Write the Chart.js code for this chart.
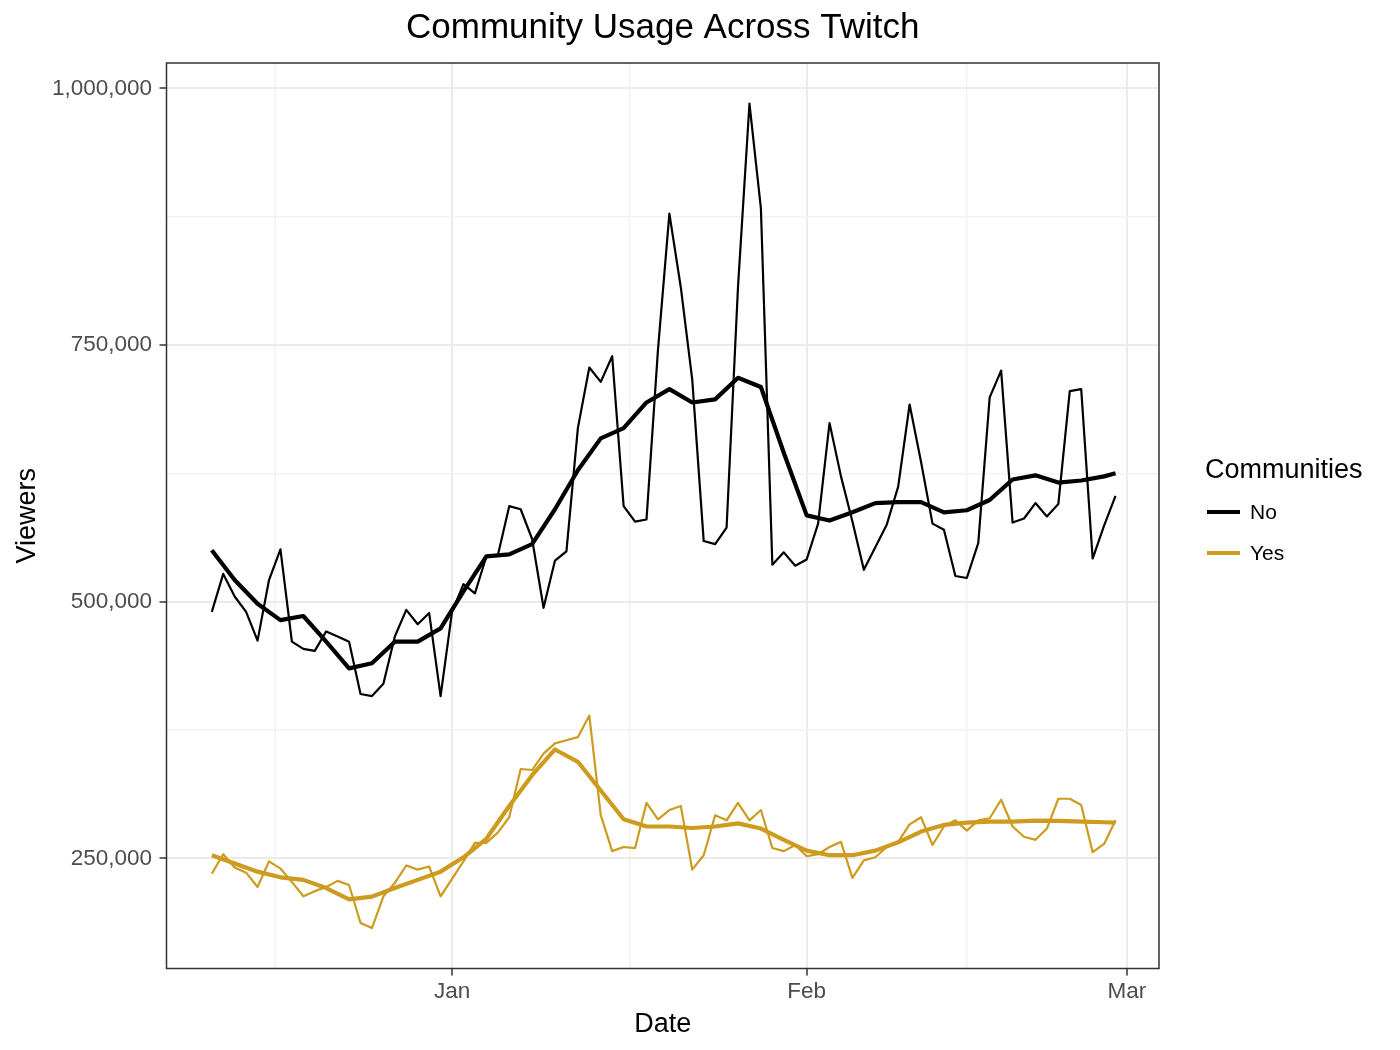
<!DOCTYPE html>
<html>
<head>
<meta charset="utf-8">
<script src="https://cdn.jsdelivr.net/npm/chart.js@4.4.1/dist/chart.umd.min.js"></script>
<style>
    body { margin: 0; background: #fff; }
    #wrap { position: relative; width: 1400px; height: 1050px; font-family: "Liberation Sans", Arial, sans-serif; }
    #legend .ltitle { position: absolute; left: 1205px; top: 453px; font-size: 27px; line-height: 32px; color: #000; }
    #legend .item { position: absolute; left: 1250px; font-size: 21px; line-height: 26px; color: #000; }
    #legend .swatch { position: absolute; left: 1207px; width: 33px; height: 4px; }
</style>
</head>
<body>
<div id="wrap">
    <canvas id="chart" width="1400" height="1050"></canvas>
    <div id="legend">
        <div class="ltitle">Communities</div>
        <div class="swatch" style="top: 510px; background: #000000;"></div>
        <div class="item" style="top: 499px;">No</div>
        <div class="swatch" style="top: 551px; background: #CD9B1D;"></div>
        <div class="item" style="top: 540px;">Yes</div>
    </div>
</div>
<script>
// days counted from Jan 1 (Dec 11 = -21 ... Feb 28 = 58)
const firstDay = -21;

// daily viewers, streams without a community
const dailyNo = [
    490000, 527000, 505000, 490000, 462000, 521000, 551000, 461000, 454000, 452000,
    471000, 466000, 461000, 410000, 408000, 420000, 466000, 492000, 478000, 489000,
    408000, 490000, 517000, 508000, 544000, 545000, 593000, 590000, 561000, 494000,
    540000, 549000, 669000, 728000, 714000, 739000, 593000, 578000, 580000, 745000,
    878000, 806000, 716000, 559000, 556000, 572000, 807000, 985000, 883000, 536000,
    548000, 535000, 541000, 576000, 674000, 622000, 578000, 531000, 553000, 575000,
    612000, 692000, 636000, 576000, 570000, 525000, 523000, 557000, 699000, 725000,
    577000, 581000, 596000, 583000, 595000, 705000, 707000, 542000, 574000, 603000
];

// daily viewers, streams with a community
const dailyYes = [
    235000, 254000, 241000, 236000, 222000, 247000, 240000, 227000, 213000, 218000,
    222000, 228000, 224000, 187000, 182000, 213000, 226000, 243000, 239000, 242000,
    213000, 230000, 247000, 265000, 265000, 275000, 290000, 337000, 336000, 352000,
    362000, 365000, 368000, 389000, 292000, 257000, 261000, 260000, 304000, 288000,
    297000, 301000, 239000, 253000, 292000, 287000, 304000, 287000, 297000, 260000,
    257000, 263000, 252000, 254000, 261000, 266000, 231000, 248000, 251000, 261000,
    266000, 283000, 290000, 263000, 281000, 287000, 277000, 287000, 289000, 307000,
    281000, 271000, 268000, 279000, 308000, 308000, 302000, 256000, 264000, 287000
];

// smoothed trend lines
const smoothDays = [
    -21, -19, -17, -15, -13, -11, -9, -7, -5, -3, -1, 1, 3, 5, 7, 9, 11, 13, 15, 17,
    19, 21, 23, 25, 27, 29, 31, 33, 35, 37, 39, 41, 43, 45, 47, 49, 51, 53, 55, 57, 58
];
const smoothNo = [
    550000, 521000, 498000, 482000, 486000, 461000, 435000, 440000, 461000, 461000,
    474000, 510000, 544000, 546000, 556000, 590000, 628000, 659000, 669000, 694000,
    707000, 694000, 697000, 718000, 709000, 645000, 584000, 579000, 587000, 596000,
    597000, 597000, 587000, 589000, 599000, 619000, 623000, 616000, 618000, 622000, 625000
];
const smoothYes = [
    253000, 245000, 237000, 231500, 229000, 221000, 210000, 212700, 221000, 229000,
    237000, 251000, 269000, 301000, 331000, 356000, 344000, 316000, 288000, 281000,
    281000, 279500, 281000, 284000, 279000, 268000, 257500, 253000, 253000, 257500,
    265600, 276000, 282500, 284700, 285700, 285700, 286700, 286400, 285700, 285100, 284700
];

const monthTicks = { 0: 'Jan', 31: 'Feb', 59: 'Mar' };
const xGrid = [-15.5, 0, 15.5, 31, 45, 59];
const yGrid = [250000, 375000, 500000, 625000, 750000, 875000, 1000000];

const gold = '#CD9B1D';
const font = '"Liberation Sans", Arial, sans-serif';

function toPoints(days, values) {
    return values.map((v, i) => ({ x: days[i], y: v }));
}
const dailyDays = dailyNo.map((v, i) => firstDay + i);

const isMajorX = v => monthTicks[v] !== undefined;
const isMajorY = v => v % 250000 === 0;

const panelBorder = {
    id: 'panelBorder',
    afterDatasetsDraw(chart) {
        const { ctx, chartArea: a } = chart;
        ctx.save();
        ctx.strokeStyle = '#333333';
        ctx.lineWidth = 1.5;
        ctx.strokeRect(a.left, a.top, a.right - a.left, a.bottom - a.top);
        ctx.restore();
    }
};

const lineStyle = { pointRadius: 0, tension: 0, fill: false, borderJoinStyle: 'round', borderCapStyle: 'butt' };

new Chart(document.getElementById('chart').getContext('2d'), {
    type: 'line',
    data: {
        datasets: [
            { label: 'No', data: toPoints(smoothDays, smoothNo), borderColor: '#000000', borderWidth: 4.2, ...lineStyle },
            { label: 'Yes', data: toPoints(smoothDays, smoothYes), borderColor: gold, borderWidth: 4.2, ...lineStyle },
            { label: 'No daily', data: toPoints(dailyDays, dailyNo), borderColor: '#000000', borderWidth: 2.2, ...lineStyle },
            { label: 'Yes daily', data: toPoints(dailyDays, dailyYes), borderColor: gold, borderWidth: 2.2, ...lineStyle }
        ]
    },
    options: {
        responsive: false,
        animation: false,
        devicePixelRatio: 1,
        layout: { padding: { left: 0, right: 241, top: 0, bottom: 0 } },
        plugins: {
            legend: { display: false },
            tooltip: { enabled: false },
            title: {
                display: true,
                fullSize: false,
                text: 'Community Usage Across Twitch',
                color: '#000000',
                font: { family: font, size: 35, weight: 'normal' },
                padding: { top: 7.5, bottom: 13.5 }
            }
        },
        scales: {
            x: {
                type: 'linear',
                min: -24.96,
                max: 61.8,
                afterBuildTicks: scale => { scale.ticks = xGrid.map(v => ({ value: v })); },
                afterFit: scale => { scale.height = 81.5; },
                ticks: {
                    autoSkip: false,
                    maxRotation: 0,
                    padding: 3,
                    color: '#4D4D4D',
                    font: { family: font, size: 22.5 },
                    callback: v => monthTicks[v] || ''
                },
                grid: {
                    color: c => (c.tick && isMajorX(c.tick.value)) ? '#EBEBEB' : '#F2F2F2',
                    lineWidth: c => (c.tick && isMajorX(c.tick.value)) ? 2 : 1.5,
                    tickLength: 7,
                    tickWidth: 1.5,
                    tickColor: c => (c.tick && isMajorX(c.tick.value)) ? '#333333' : 'rgba(0,0,0,0)'
                },
                border: { display: false },
                title: {
                    display: true,
                    text: 'Date',
                    color: '#000000',
                    font: { family: font, size: 27 },
                    padding: { top: 0, bottom: 9 }
                }
            },
            y: {
                type: 'linear',
                min: 142665,
                max: 1024640,
                afterBuildTicks: scale => { scale.ticks = yGrid.map(v => ({ value: v })); },
                afterFit: scale => { scale.width = 166.5; },
                ticks: {
                    padding: 7.5,
                    color: '#4D4D4D',
                    font: { family: font, size: 22.5 },
                    callback: v => isMajorY(v) ? v.toLocaleString('en-US') : ''
                },
                grid: {
                    color: c => (c.tick && isMajorY(c.tick.value)) ? '#EBEBEB' : '#F2F2F2',
                    lineWidth: c => (c.tick && isMajorY(c.tick.value)) ? 2 : 1.5,
                    tickLength: 7,
                    tickWidth: 1.5,
                    tickColor: c => (c.tick && isMajorY(c.tick.value)) ? '#333333' : 'rgba(0,0,0,0)'
                },
                border: { display: false },
                title: {
                    display: true,
                    text: 'Viewers',
                    color: '#000000',
                    font: { family: font, size: 27 },
                    padding: { top: 11, bottom: 0 }
                }
            }
        }
    },
    plugins: [panelBorder]
});
</script>
</body>
</html>
